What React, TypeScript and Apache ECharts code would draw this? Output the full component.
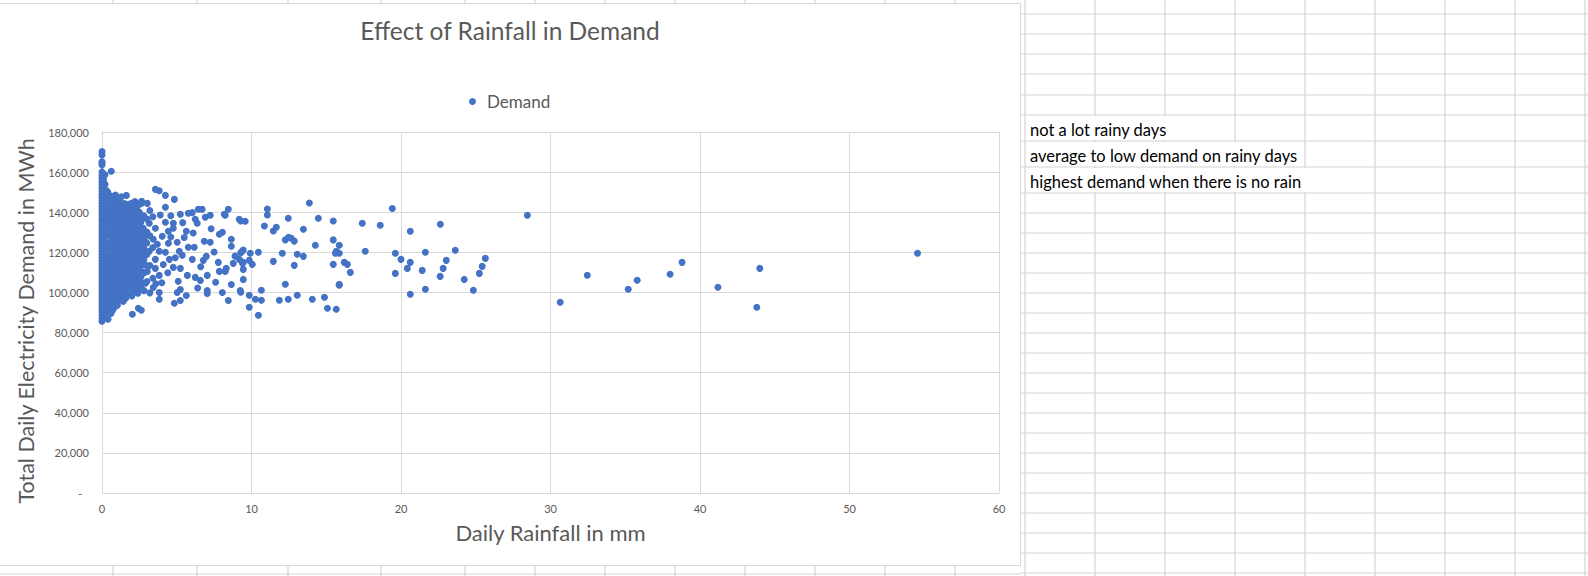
import * as echarts from "echarts";
import React, { useEffect, useRef } from "react";

// daily demand (MWh) on days with no rain at all
const dryDays = [
  85600, 86900, 88700, 90200, 91800, 93300, 94700, 96400, 97900, 99300,
  100800, 102400, 103900, 105300, 106900, 108400, 109800, 111500, 112900,
  114300, 115900, 117400, 118800, 120500, 121900, 123300, 124900, 126400,
  127800, 129500, 130900, 132300, 133900, 135400, 136800, 138500, 139900,
  141300, 142900, 144400, 145800, 147500, 148900, 150600, 152200, 153900,
  155400, 157000, 158600, 160100, 163500, 164600, 165200, 168500, 170200,
];

// [rainfall mm, demand MWh]
const traceDays: [number, number][] = [
  [0.1, 91000], [0.1, 96500], [0.1, 101900], [0.1, 107300], [0.1, 112600], [0.1, 118100],
  [0.1, 124200], [0.1, 129600], [0.1, 135100], [0.1, 140500], [0.1, 145900], [0.1, 151300],
  [0.1, 156200],
  [0.3, 89800], [0.3, 95300], [0.3, 100700], [0.3, 106200], [0.3, 111700], [0.3, 117000],
  [0.3, 122600], [0.3, 128100], [0.3, 133500], [0.3, 138900], [0.3, 144400], [0.3, 150800],
  [0.5, 92100], [0.5, 97600], [0.5, 103000], [0.5, 108400], [0.5, 113900], [0.5, 119300],
  [0.5, 124700], [0.5, 130200], [0.5, 135600], [0.5, 141000], [0.5, 146200],
  [0.7, 91000], [0.7, 96300], [0.7, 101800], [0.7, 107200], [0.7, 112600], [0.7, 118000],
  [0.7, 123500], [0.7, 128900], [0.7, 134300], [0.7, 139800], [0.7, 144900],
  [0.9, 95200], [0.9, 100600], [0.9, 106100], [0.9, 111500], [0.9, 116900], [0.9, 122400],
  [0.9, 127800], [0.9, 133200], [0.9, 138700], [0.9, 143900],
  [1.1, 97900], [1.1, 103300], [1.1, 108800], [1.1, 114200], [1.1, 119600], [1.1, 125100],
  [1.1, 130500], [1.1, 135900], [1.1, 141300], [1.1, 146000],
  [1.3, 98900], [1.3, 104300], [1.3, 109700], [1.3, 115200], [1.3, 120600], [1.3, 126000],
  [1.3, 131500], [1.3, 136900], [1.3, 142100],
  [1.5, 101200], [1.5, 106600], [1.5, 112000], [1.5, 117500], [1.5, 122900], [1.5, 128300],
  [1.5, 133800], [1.5, 139100], [1.5, 144300],
  [1.7, 99800], [1.7, 105300], [1.7, 110700], [1.7, 116200], [1.7, 121600], [1.7, 127000],
  [1.7, 132500], [1.7, 137900], [1.7, 142600],
  [1.9, 101900], [1.9, 107400], [1.9, 112800], [1.9, 118200], [1.9, 123700], [1.9, 129100],
  [1.9, 134500], [1.9, 139900],
  [2.1, 100800], [2.1, 106300], [2.1, 111700], [2.1, 117100], [2.1, 122600], [2.1, 128000],
  [2.1, 133400], [2.1, 138800], [2.1, 143600],
  [2.3, 103800], [2.3, 109300], [2.3, 114700], [2.3, 120200], [2.3, 125600], [2.3, 131000],
  [2.3, 136400], [2.3, 141200],
  [2.5, 102100], [2.5, 107500], [2.5, 112900], [2.5, 118400], [2.5, 123800], [2.5, 129200],
  [2.5, 134700], [2.5, 140000],
  [2.7, 104800], [2.7, 110200], [2.7, 115600], [2.7, 121100], [2.7, 126500], [2.7, 131800],
  [2.7, 137000],
  [2.9, 113700], [2.9, 119400], [2.9, 125100], [2.9, 129900],
];

const drizzleDays: [number, number][] = [
  [0.2, 88400], [0.2, 93700], [0.2, 99200], [0.2, 104600], [0.2, 110300], [0.2, 115800],
  [0.2, 121500], [0.2, 126900], [0.2, 132400], [0.2, 137800], [0.2, 143200], [0.2, 148100],
  [0.2, 153900], [0.2, 158700],
  [0.4, 86600], [0.4, 91200], [0.4, 96800], [0.4, 102100], [0.4, 107500], [0.4, 112900],
  [0.4, 118400], [0.4, 123700], [0.4, 129300], [0.4, 134600], [0.4, 140100], [0.4, 145500],
  [0.4, 149800],
  [0.6, 89500], [0.6, 94900], [0.6, 100400], [0.6, 105800], [0.6, 111200], [0.6, 116700],
  [0.6, 122100], [0.6, 127600], [0.6, 133000], [0.6, 138400], [0.6, 143700], [0.6, 147900],
  [0.62, 160400],
  [0.8, 92300], [0.8, 97700], [0.8, 103100], [0.8, 108600], [0.8, 114000], [0.8, 119400],
  [0.8, 124900], [0.8, 130300], [0.8, 135700], [0.8, 141200], [0.8, 146300],
  [1.0, 93600], [1.0, 99000], [1.0, 104400], [1.0, 109900], [1.0, 115300], [1.0, 120800],
  [1.0, 126200], [1.0, 131600], [1.0, 137100], [1.0, 142400], [0.9, 148600],
  [1.2, 96400], [1.2, 101800], [1.2, 107200], [1.2, 112700], [1.2, 118100], [1.2, 123500],
  [1.2, 129000], [1.2, 134400], [1.2, 139700], [1.2, 145400],
  [1.4, 95600], [1.4, 99500], [1.4, 105000], [1.4, 110500], [1.4, 115900], [1.4, 121300],
  [1.4, 126800], [1.4, 132200], [1.4, 137500], [1.4, 142800], [1.3, 147700],
  [1.6, 97200], [1.6, 102700], [1.6, 108100], [1.6, 113600], [1.6, 119000], [1.6, 124400],
  [1.6, 129800], [1.6, 135300], [1.6, 140600], [1.63, 148400],
  [1.8, 100500], [1.8, 106000], [1.8, 111400], [1.8, 116900], [1.8, 122300], [1.8, 127700],
  [1.8, 133100], [1.8, 138500], [1.8, 143900],
  [2.0, 98300], [2.0, 103700], [2.0, 109200], [2.0, 114600], [2.0, 120100], [2.0, 125500],
  [2.0, 130900], [2.0, 136300], [2.0, 141500], [1.98, 144400], [2.03, 89100],
  [2.2, 101200], [2.2, 106600], [2.2, 112000], [2.2, 117500], [2.2, 122900], [2.2, 128300],
  [2.2, 133800], [2.2, 139100], [2.2, 145300],
  [2.43, 92100], [2.4, 99600], [2.4, 104900], [2.4, 110400], [2.4, 115800], [2.4, 121200],
  [2.4, 126700], [2.4, 132100], [2.4, 137400], [2.4, 143300],
  [2.63, 91100], [2.6, 102300], [2.6, 107800], [2.6, 113200], [2.6, 118700], [2.6, 124100],
  [2.6, 129500], [2.6, 135000], [2.65, 145400], [2.63, 144400],
  [2.8, 100900], [2.8, 109700], [2.8, 116300], [2.8, 121900], [2.8, 127300], [2.76, 132000],
  [2.8, 138200], [2.9, 104600], [1.02, 93600], [1.42, 95600],
];

const showerDays: [number, number][] = [
  [3.57, 151400], [3.83, 150700], [4.24, 148400], [4.84, 146400], [3.03, 144400], [4.24, 142500],
  [5.24, 139000], [5.77, 139500], [6.04, 139800], [6.44, 141500], [6.7, 141500], [7.24, 138500],
  [8.18, 139000], [8.45, 141500], [8.24, 138500], [9.18, 136500], [9.58, 135500], [6.24, 136500],
  [6.37, 134500], [6.91, 137500], [5.64, 130500], [4.77, 132000], [4.77, 134500], [4.24, 135000],
  [3.57, 132000], [3.16, 134500], [5.03, 125000], [6.84, 125500], [7.24, 125000], [7.85, 129000],
  [8.05, 130000], [8.65, 126500], [8.65, 123000], [9.38, 120500], [9.92, 119500], [5.77, 122500],
  [6.17, 122500], [5.37, 118500], [6.04, 116500], [6.78, 116000], [6.98, 118000], [7.78, 115000],
  [8.31, 112000], [8.78, 114500], [9.18, 116500], [9.45, 115000], [7.85, 110500], [8.24, 110500],
  [4.77, 112500], [5.24, 112000], [5.71, 108500], [6.24, 107500], [6.58, 106000], [7.04, 108500],
  [8.65, 104000], [5.24, 101500], [7.04, 101000], [7.04, 99500], [8.05, 100000], [9.25, 101000],
  [8.45, 96000], [5.03, 100000], [5.24, 96000], [4.84, 94600], [5.64, 98500], [3.83, 96600],
  [3.83, 100000], [3.43, 102500], [3.57, 112000], [3.83, 108500], [3.03, 110500], [3.57, 116500],
  [3.16, 120500], [3.83, 120500], [4.44, 124500], [4.03, 128000], [3.43, 126500], [4.44, 130500],
  [5.17, 120500], [4.51, 116500], [4.24, 120000],
  [3.2, 99800], [3.2, 113400], [3.2, 128200], [3.2, 140900], [3.4, 107100], [3.4, 122400],
  [3.4, 137700], [3.0, 105400], [3.0, 118900], [3.0, 124700], [3.0, 130100], [3.0, 136600],
  [3.6, 104300], [3.7, 124000], [3.9, 138600], [4.1, 113900], [4.0, 104800], [4.6, 127600],
  [4.4, 109800], [4.9, 117300], [5.5, 127400], [5.4, 134800], [6.1, 129600], [6.6, 112800],
  [7.5, 120200], [7.3, 131800], [8.9, 118100], [7.6, 105100], [6.4, 102200], [4.6, 138200],
  [5.1, 105600],
];

const wetDays: [number, number][] = [
  [9.28, 135600], [11.06, 141600], [11.06, 138600], [13.87, 144600], [12.46, 137000], [14.47, 137000],
  [15.47, 135600], [10.86, 133100], [11.46, 130600], [11.66, 132500], [13.47, 131500], [12.26, 126200],
  [12.48, 127500], [12.66, 127000], [12.86, 125600], [14.27, 123500], [15.47, 126200], [15.87, 123500],
  [17.41, 134500], [18.61, 133500], [19.42, 141900], [20.62, 130500], [22.63, 134000], [9.45, 121200],
  [9.28, 119800], [10.46, 120000], [12.06, 119500], [13.06, 119000], [13.47, 118000], [15.67, 120500],
  [15.87, 119500], [15.61, 119500], [17.61, 120500], [19.62, 119500], [21.63, 120000], [23.63, 121000],
  [9.85, 116000], [10.05, 114000], [9.4, 114500], [9.45, 111500], [11.46, 115500], [12.86, 113500],
  [15.47, 114000], [16.21, 115000], [16.41, 114000], [16.61, 110000], [20.0, 116500], [20.62, 115000],
  [20.42, 112000], [19.62, 109500], [21.42, 111000], [23.03, 116000], [22.82, 112000], [22.62, 108000],
  [25.64, 117000], [25.43, 113000], [25.24, 109500], [24.23, 106500], [24.84, 101100], [21.63, 101600],
  [20.62, 99100], [9.45, 106500], [9.28, 100100], [9.85, 98600], [10.66, 101100], [10.26, 96600],
  [10.66, 96100], [9.85, 92600], [10.46, 88600], [12.26, 104100], [11.86, 96100], [12.46, 96600],
  [13.06, 98600], [14.07, 96600], [14.88, 97600], [15.08, 92100], [15.67, 91600], [15.87, 104100],
  [15.87, 103600], [28.45, 138500],
];

const stormDays: [number, number][] = [
  [30.65, 95100], [32.46, 108600], [35.2, 101600], [35.8, 106100], [38.0, 109100],
  [38.8, 115000], [41.2, 102600], [43.8, 92600], [44.0, 112000], [54.55, 119500],
];

const notes = [
  "not a lot rainy days",
  "average to low demand on rainy days",
  "highest demand when there is no rain",
];

// spreadsheet layout around the chart
const GRID_COLOR = "#d4d4d4";
const SHEET_COLS = [1025, 1095, 1165, 1235, 1305, 1375, 1445, 1515, 1585];
const SHEET_ROWS = [14, 34, 54, 74, 95, 115, 141, 167, 193];
for (let y = 213; y <= 573; y += 20) SHEET_ROWS.push(y);
const NOTE_END_COLS = [1235, 1305, 1375]; // first visible column line after each note
const NOTE_ROWS = [115, 141, 167];
const UNDER_CHART_COLS = [113, 197, 288, 381, 465, 535, 605, 675, 745, 815, 885, 955];

const sheetGraphics = () => {
  const items: any[] = [];
  const line = (x1: number, y1: number, x2: number, y2: number) =>
    items.push({
      type: "line",
      silent: true,
      shape: { x1, y1, x2, y2 },
      style: { stroke: GRID_COLOR, lineWidth: 1.2 },
    });
  SHEET_ROWS.forEach((y) => line(1021, y, 1588, y));
  SHEET_COLS.forEach((x) => line(x, 0, x, 576));
  UNDER_CHART_COLS.forEach((x) => {
    line(x, 0, x, 3);
    line(x, 566, x, 576);
  });
  line(0, 574, 1021, 574);
  items.push({
    type: "rect",
    silent: true,
    shape: { x: -1, y: 3.5, width: 1021.5, height: 562 },
    style: { fill: "#ffffff", stroke: "#d9d9d9", lineWidth: 1 },
    z: -10,
  });
  notes.forEach((text, i) => {
    items.push({
      type: "rect",
      silent: true,
      shape: { x: 1026, y: NOTE_ROWS[i] + 1, width: NOTE_END_COLS[i] - 1027, height: 24 },
      style: { fill: "#ffffff" },
    });
    items.push({
      type: "text",
      silent: true,
      x: 1030,
      y: NOTE_ROWS[i] + 14.5,
      style: {
        text,
        fill: "#000000",
        fontSize: 16.5,
        fontFamily: "Lato",
        verticalAlign: "middle",
      },
    });
  });
  return items;
};

const App: React.FC = () => {
  const chartRef = useRef<HTMLDivElement | null>(null);

  useEffect(() => {
    const chart = echarts.init(chartRef.current, undefined, { renderer: "svg" });
    const points = [
      ...dryDays.map((d) => [0, d]),
      ...traceDays,
      ...drizzleDays,
      ...showerDays,
      ...wetDays,
      ...stormDays,
    ];
    chart.setOption({
      animation: false,
      backgroundColor: "#ffffff",
      textStyle: { fontFamily: "Lato" },
      title: {
        text: "Effect of Rainfall in Demand",
        left: 510,
        top: 18,
        textAlign: "center",
        padding: 0,
        textStyle: { fontSize: 24.5, fontWeight: "normal", color: "#595959", fontFamily: "Lato" },
      },
      legend: {
        data: ["Demand"],
        left: 469,
        top: 93,
        padding: 0,
        icon: "circle",
        itemWidth: 7,
        itemHeight: 7,
        textStyle: { fontSize: 17, color: "#595959", padding: [0, 0, 0, 6] },
      },
      grid: { left: 102, top: 132, width: 897, height: 361 },
      xAxis: {
        type: "value",
        min: 0,
        max: 60,
        interval: 10,
        name: "Daily Rainfall in mm",
        nameLocation: "middle",
        nameGap: 28,
        nameTextStyle: { fontSize: 22, color: "#595959" },
        axisLine: { show: true, lineStyle: { color: "#d9d9d9" } },
        axisTick: { show: false },
        axisLabel: { color: "#595959", fontSize: 11, margin: 10 },
        splitLine: { show: true, lineStyle: { color: "#d9d9d9" } },
      },
      yAxis: {
        type: "value",
        min: 0,
        max: 180000,
        interval: 20000,
        name: "Total Daily Electricity Demand in MWh",
        nameLocation: "middle",
        nameGap: 61,
        nameTextStyle: { fontSize: 21.5, color: "#595959", padding: [0, 17, 0, 0] },
        axisLine: { show: true, lineStyle: { color: "#d9d9d9" } },
        axisTick: { show: false },
        axisLabel: {
          color: "#595959",
          fontSize: 11,
          margin: 13,
          formatter: (v: number) => (v === 0 ? "{dash|-}" : v.toLocaleString("en-US")),
          rich: { dash: { color: "#595959", fontSize: 11, padding: [0, 7, 0, 0] } },
        },
        splitLine: { show: true, lineStyle: { color: "#d9d9d9" } },
      },
      graphic: sheetGraphics(),
      series: [
        {
          name: "Demand",
          type: "scatter",
          symbolSize: 7,
          itemStyle: { color: "#4472C4", opacity: 1 },
          emphasis: { disabled: true },
          data: points,
        },
      ],
    });
    return () => chart.dispose();
  }, []);

  return (
    <div
      ref={chartRef}
      style={{ position: "absolute", left: 0, top: 0, width: 1588, height: 576 }}
    ></div>
  );
};

export default App;
